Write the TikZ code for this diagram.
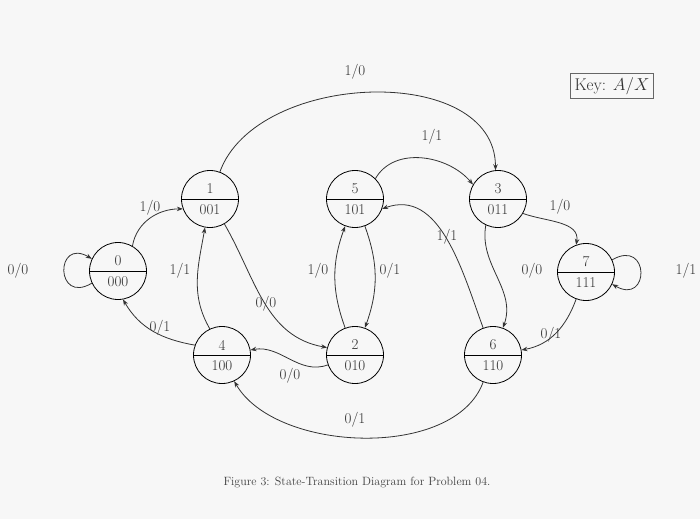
\documentclass[tikz,border=0pt]{standalone}
\usetikzlibrary{arrows.meta}
\begin{document}
\begin{tikzpicture}[x=1pt,y=-1pt,
  st/.style={circle,draw,thick,minimum size=57pt,inner sep=0pt,
    path picture={\draw[thick] (path picture bounding box.west) -- (path picture bounding box.east);}},
  tr/.style={-{Stealth[length=6pt,width=4.5pt]},thick,black!80},
  lb/.style={font=\fontsize{15}{17}\selectfont,text=black!80},
  up/.style={label={[lb,yshift=10pt]center:#1}},
  dn/.style={label={[lb,yshift=-11pt]center:#1}}]
\fill[gray!6] (0,0) rectangle (700,519);
\useasboundingbox (0,0) rectangle (700,519);
\node[st,up=0,dn=000] (s0) at (118,271) {};
\node[st,up=1,dn=001] (s1) at (210,199) {};
\node[st,up=5,dn=101] (s5) at (355,199) {};
\node[st,up=3,dn=011] (s3) at (498,199) {};
\node[st,up=7,dn=111] (s7) at (586,272) {};
\node[st,up=2,dn=010] (s2) at (355,355) {};
\node[st,up=4,dn=100] (s4) at (222,355) {};
\node[st,up=6,dn=110] (s6) at (493,355) {};
\draw[tr] (s0.205) .. controls (55,305) and (55,237) .. (s0.155);
\draw[tr] (s0.60) to[out=80,in=180] (s1.200);
\draw[tr] (s4.160) to[out=170,in=300] (s0.280);
\draw[tr] (s4.115) to[out=120,in=260] (s1.260);
\draw[tr] (s1.300) to[out=300,in=170] (s2.165);
\draw[tr] (s2.200) to[out=200,in=10] (s4.10);
\draw[tr] (s1.70) to[out=70,in=90,looseness=1] (s3.95);
\draw[tr] (s5.45) to[out=60,in=130] (s3.150);
\draw[tr] (s5.290) to[out=290,in=70] (s2.70);
\draw[tr] (s2.110) to[out=110,in=250] (s5.250);
\draw[tr] (s6.110) to[out=110,in=20] (s5.340);
\draw[tr] (s3.245) to[out=260,in=70] (s6.70);
\draw[tr] (s3.330) to[out=-20,in=80] (s7.110);
\draw[tr] (s7.25) .. controls (650,238) and (650,306) .. (s7.-25);
\draw[tr] (s7.250) to[out=250,in=10] (s6.10);
\draw[tr] (s6.250) to[out=250,in=300,looseness=0.85] (s4.295);
\node[lb] (l00) at (18,271) {0/0};
\node[lb] (l01) at (150,208) {1/0};
\node[lb] (l02) at (160,328) {0/1};
\node[lb] (l03) at (180,271) {1/1};
\node[lb] (l04) at (266,304) {0/0};
\node[lb] (l05) at (290,376) {0/0};
\node[lb] (l06) at (355,72) {1/0};
\node[lb] (l07) at (432,137) {1/1};
\node[lb] (l08) at (390,271) {0/1};
\node[lb] (l09) at (318,271) {1/0};
\node[lb] (l10) at (447,237) {1/1};
\node[lb] (l11) at (532,271) {0/0};
\node[lb] (l12) at (560,207) {1/0};
\node[lb] (l13) at (686,271) {1/1};
\node[lb] (l14) at (551,335) {0/1};
\node[lb] (l15) at (355,420) {0/1};
\node[draw,thick,black!60,font=\fontsize{17}{19}\selectfont,text=black!80,inner sep=4pt] (key) at (612,86) {Key: $A/X$};
\node[font=\fontsize{12}{14}\selectfont,text=black!75] (cap) at (357,482) {Figure 3: State-Transition Diagram for Problem 04.};
\end{tikzpicture}
\end{document}
